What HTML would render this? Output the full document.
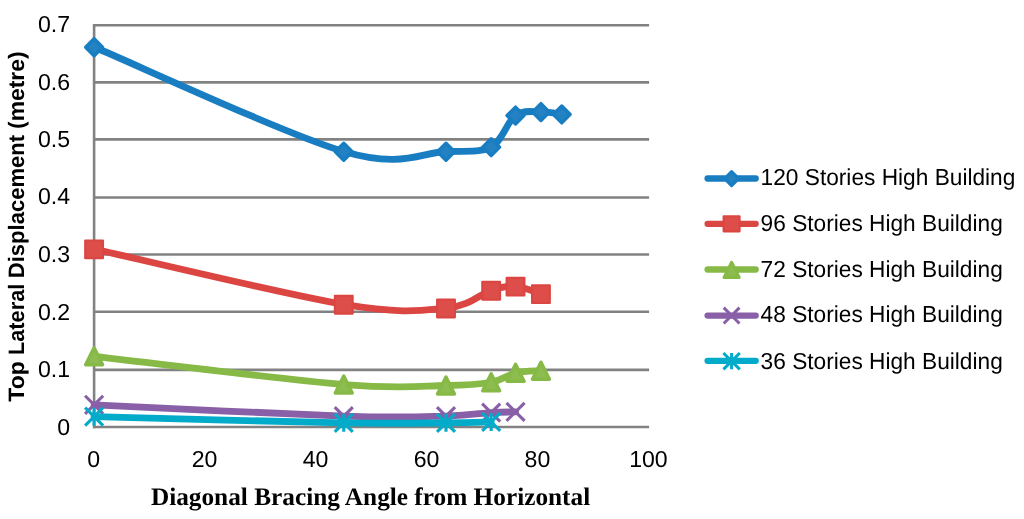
<!DOCTYPE html>
<html><head><meta charset="utf-8"><title>Chart</title>
<style>
html,body{margin:0;padding:0;background:#fff;}
body{width:1024px;height:519px;overflow:hidden;}
svg{display:block;text-rendering:geometricPrecision;}
.t{font-family:"Liberation Sans",sans-serif;font-size:23.1px;fill:#000;}
.yt{font-family:"Liberation Sans",sans-serif;font-size:22.3px;font-weight:bold;fill:#000;}
.xt{font-family:"Liberation Serif",serif;font-size:25.2px;font-weight:bold;fill:#000;}
</style></head><body>
<svg width="1024" height="519" viewBox="0 0 1024 519">
<rect width="1024" height="519" fill="#fff"/>
<line x1="93.10" y1="427.00" x2="649.10" y2="427.00" stroke="#828282" stroke-width="2.6"/>
<line x1="93.10" y1="369.85" x2="649.10" y2="369.85" stroke="#828282" stroke-width="2.6"/>
<line x1="93.10" y1="311.70" x2="649.10" y2="311.70" stroke="#828282" stroke-width="2.6"/>
<line x1="93.10" y1="254.55" x2="649.10" y2="254.55" stroke="#828282" stroke-width="2.6"/>
<line x1="93.10" y1="197.50" x2="649.10" y2="197.50" stroke="#828282" stroke-width="2.6"/>
<line x1="93.10" y1="139.40" x2="649.10" y2="139.40" stroke="#828282" stroke-width="2.6"/>
<line x1="93.10" y1="82.40" x2="649.10" y2="82.40" stroke="#828282" stroke-width="2.6"/>
<line x1="93.10" y1="25.25" x2="649.10" y2="25.25" stroke="#828282" stroke-width="2.6"/>
<line x1="94.10" y1="23.90" x2="94.10" y2="428.30" stroke="#828282" stroke-width="2.6"/>
<text class="t" x="70.0" y="434.65" text-anchor="end">0</text>
<text class="t" x="70.0" y="376.55" text-anchor="end">0.1</text>
<text class="t" x="70.0" y="319.50" text-anchor="end">0.2</text>
<text class="t" x="70.0" y="262.25" text-anchor="end">0.3</text>
<text class="t" x="70.0" y="204.25" text-anchor="end">0.4</text>
<text class="t" x="70.0" y="146.85" text-anchor="end">0.5</text>
<text class="t" x="70.0" y="89.65" text-anchor="end">0.6</text>
<text class="t" x="70.0" y="31.85" text-anchor="end">0.7</text>
<text class="t" x="93.60" y="467.25" text-anchor="middle">0</text>
<text class="t" x="204.56" y="467.25" text-anchor="middle">20</text>
<text class="t" x="315.52" y="467.25" text-anchor="middle">40</text>
<text class="t" x="426.48" y="467.25" text-anchor="middle">60</text>
<text class="t" x="537.44" y="467.25" text-anchor="middle">80</text>
<text class="t" x="648.40" y="467.25" text-anchor="middle">100</text>
<text class="xt" x="150.9" y="505.3" textLength="439.3" lengthAdjust="spacingAndGlyphs">Diagonal Bracing Angle from Horizontal</text>
<text class="yt" transform="translate(24.1,0) rotate(-90)"><tspan x="-401.70" textLength="40.46" lengthAdjust="spacingAndGlyphs">Top</tspan> <tspan x="-355.08" textLength="71.37" lengthAdjust="spacingAndGlyphs">Lateral</tspan> <tspan x="-278.19" textLength="143.27" lengthAdjust="spacingAndGlyphs">Displacement</tspan> <tspan x="-128.93" textLength="77.53" lengthAdjust="spacingAndGlyphs">(metre)</tspan></text>
<path d="M94.10,47.01 C135.71,64.42 285.11,134.07 343.76,151.48 C402.41,168.89 421.44,152.25 446.01,151.48 C470.58,150.71 479.58,152.91 491.17,146.89 C502.76,140.86 507.23,121.15 515.53,115.32 C523.82,109.48 533.23,112.07 540.94,111.87 C548.64,111.68 558.27,113.79 561.74,114.17" fill="none" stroke="#197dc2" stroke-width="6.8" stroke-linecap="round" stroke-linejoin="round"/>
<path d="M94.10,38.81 L102.55,47.26 L94.10,55.71 L85.65,47.26 Z" fill="#2481c2" stroke="#197dc2" stroke-width="3.4" stroke-linejoin="round"/>
<path d="M343.76,143.28 L352.21,151.73 L343.76,160.18 L335.31,151.73 Z" fill="#2481c2" stroke="#197dc2" stroke-width="3.4" stroke-linejoin="round"/>
<path d="M446.01,143.28 L454.46,151.73 L446.01,160.18 L437.56,151.73 Z" fill="#2481c2" stroke="#197dc2" stroke-width="3.4" stroke-linejoin="round"/>
<path d="M491.17,138.69 L499.62,147.14 L491.17,155.59 L482.72,147.14 Z" fill="#2481c2" stroke="#197dc2" stroke-width="3.4" stroke-linejoin="round"/>
<path d="M515.53,107.12 L523.98,115.57 L515.53,124.02 L507.08,115.57 Z" fill="#2481c2" stroke="#197dc2" stroke-width="3.4" stroke-linejoin="round"/>
<path d="M540.94,103.67 L549.39,112.12 L540.94,120.57 L532.49,112.12 Z" fill="#2481c2" stroke="#197dc2" stroke-width="3.4" stroke-linejoin="round"/>
<path d="M561.74,105.97 L570.19,114.42 L561.74,122.87 L553.29,114.42 Z" fill="#2481c2" stroke="#197dc2" stroke-width="3.4" stroke-linejoin="round"/>
<path d="M94.10,249.06 C135.71,258.28 285.11,294.54 343.76,304.39 C402.41,314.25 421.44,310.52 446.01,308.18 C470.58,305.85 479.58,294.02 491.17,290.39 C502.76,286.75 507.23,285.80 515.53,286.37 C523.82,286.94 536.70,292.59 540.94,293.83" fill="none" stroke="#db4643" stroke-width="6.8" stroke-linecap="round" stroke-linejoin="round"/>
<rect x="85.25" y="240.51" width="17.70" height="17.70" fill="#dd4e4b" stroke="#db4643" stroke-width="2.2" stroke-linejoin="round"/>
<rect x="334.91" y="295.84" width="17.70" height="17.70" fill="#dd4e4b" stroke="#db4643" stroke-width="2.2" stroke-linejoin="round"/>
<rect x="437.16" y="299.63" width="17.70" height="17.70" fill="#dd4e4b" stroke="#db4643" stroke-width="2.2" stroke-linejoin="round"/>
<rect x="482.32" y="281.84" width="17.70" height="17.70" fill="#dd4e4b" stroke="#db4643" stroke-width="2.2" stroke-linejoin="round"/>
<rect x="506.68" y="277.82" width="17.70" height="17.70" fill="#dd4e4b" stroke="#db4643" stroke-width="2.2" stroke-linejoin="round"/>
<rect x="532.09" y="285.28" width="17.70" height="17.70" fill="#dd4e4b" stroke="#db4643" stroke-width="2.2" stroke-linejoin="round"/>
<path d="M94.10,356.28 C135.71,360.99 285.11,379.65 343.76,384.52 C402.41,389.39 421.44,385.88 446.01,385.50 C470.58,385.12 479.58,384.33 491.17,382.23 C502.76,380.12 507.23,374.79 515.53,372.87 C523.82,370.96 536.70,371.10 540.94,370.75" fill="none" stroke="#86b946" stroke-width="6.8" stroke-linecap="round" stroke-linejoin="round"/>
<path d="M94.10,347.78 L102.60,364.78 L85.60,364.78 Z" fill="#8dbd50" stroke="#86b946" stroke-width="3.4" stroke-linejoin="round"/>
<path d="M343.76,376.02 L352.26,393.02 L335.26,393.02 Z" fill="#8dbd50" stroke="#86b946" stroke-width="3.4" stroke-linejoin="round"/>
<path d="M446.01,377.00 L454.51,394.00 L437.51,394.00 Z" fill="#8dbd50" stroke="#86b946" stroke-width="3.4" stroke-linejoin="round"/>
<path d="M491.17,373.73 L499.67,390.73 L482.67,390.73 Z" fill="#8dbd50" stroke="#86b946" stroke-width="3.4" stroke-linejoin="round"/>
<path d="M515.53,364.37 L524.03,381.37 L507.03,381.37 Z" fill="#8dbd50" stroke="#86b946" stroke-width="3.4" stroke-linejoin="round"/>
<path d="M540.94,362.25 L549.44,379.25 L532.44,379.25 Z" fill="#8dbd50" stroke="#86b946" stroke-width="3.4" stroke-linejoin="round"/>
<path d="M94.10,404.79 C135.71,406.67 285.11,414.21 343.76,416.09 C402.41,417.98 421.44,416.68 446.01,416.09 C470.58,415.51 479.58,413.29 491.17,412.59 C502.76,411.89 511.47,412.02 515.53,411.90" fill="none" stroke="#8960a7" stroke-width="6.8" stroke-linecap="round" stroke-linejoin="round"/>
<path d="M85.05,395.74 L103.15,413.84 M85.05,413.84 L103.15,395.74" fill="none" stroke="#8960a7" stroke-width="3.1"/>
<path d="M334.71,407.04 L352.81,425.14 M334.71,425.14 L352.81,407.04" fill="none" stroke="#8960a7" stroke-width="3.1"/>
<path d="M436.96,407.04 L455.06,425.14 M436.96,425.14 L455.06,407.04" fill="none" stroke="#8960a7" stroke-width="3.1"/>
<path d="M482.12,403.54 L500.22,421.64 M482.12,421.64 L500.22,403.54" fill="none" stroke="#8960a7" stroke-width="3.1"/>
<path d="M506.48,402.85 L524.58,420.95 M506.48,420.95 L524.58,402.85" fill="none" stroke="#8960a7" stroke-width="3.1"/>
<path d="M94.10,416.67 C135.71,417.69 285.11,421.79 343.76,422.81 C402.41,423.83 421.44,422.96 446.01,422.81 C470.58,422.66 483.64,422.04 491.17,421.89" fill="none" stroke="#02abc9" stroke-width="6.8" stroke-linecap="round" stroke-linejoin="round"/>
<path d="M85.10,407.67 L103.10,425.67 M85.10,425.67 L103.10,407.67 M94.10,407.67 L94.10,425.67" fill="none" stroke="#02abc9" stroke-width="3.1"/>
<path d="M334.76,413.81 L352.76,431.81 M334.76,431.81 L352.76,413.81 M343.76,413.81 L343.76,431.81" fill="none" stroke="#02abc9" stroke-width="3.1"/>
<path d="M437.01,413.81 L455.01,431.81 M437.01,431.81 L455.01,413.81 M446.01,413.81 L446.01,431.81" fill="none" stroke="#02abc9" stroke-width="3.1"/>
<path d="M482.17,412.89 L500.17,430.89 M482.17,430.89 L500.17,412.89 M491.17,412.89 L491.17,430.89" fill="none" stroke="#02abc9" stroke-width="3.1"/>
<line x1="707.6" y1="178.50" x2="755.7" y2="178.50" stroke="#197dc2" stroke-width="6.3" stroke-linecap="round"/>
<path d="M731.60,171.70 L738.50,178.60 L731.60,185.50 L724.70,178.60 Z" fill="#2481c2" stroke="#197dc2" stroke-width="3.2" stroke-linejoin="round"/>
<text class="t" x="760.6" y="185.40" textLength="254.77" lengthAdjust="spacingAndGlyphs">120 Stories High Building</text>
<line x1="707.6" y1="223.85" x2="755.7" y2="223.85" stroke="#db4643" stroke-width="6.3" stroke-linecap="round"/>
<rect x="723.65" y="216.40" width="15.90" height="14.90" fill="#dd4e4b" stroke="#db4643" stroke-width="2.2" stroke-linejoin="round"/>
<text class="t" x="760.6" y="231.25" textLength="242.16" lengthAdjust="spacingAndGlyphs">96 Stories High Building</text>
<line x1="707.6" y1="269.50" x2="755.7" y2="269.50" stroke="#86b946" stroke-width="6.3" stroke-linecap="round"/>
<path d="M731.60,262.45 L739.10,277.45 L724.10,277.45 Z" fill="#8dbd50" stroke="#86b946" stroke-width="3.2" stroke-linejoin="round"/>
<text class="t" x="760.6" y="276.90" textLength="242.16" lengthAdjust="spacingAndGlyphs">72 Stories High Building</text>
<line x1="707.6" y1="315.55" x2="755.7" y2="315.55" stroke="#8960a7" stroke-width="6.3" stroke-linecap="round"/>
<path d="M723.70,307.65 L739.50,323.45 M723.70,323.45 L739.50,307.65" fill="none" stroke="#8960a7" stroke-width="3.0"/>
<text class="t" x="760.6" y="322.10" textLength="242.16" lengthAdjust="spacingAndGlyphs">48 Stories High Building</text>
<line x1="707.6" y1="360.85" x2="755.7" y2="360.85" stroke="#02abc9" stroke-width="6.3" stroke-linecap="round"/>
<path d="M723.40,352.95 L739.80,369.35 M723.40,369.35 L739.80,352.95 M731.60,352.95 L731.60,369.35" fill="none" stroke="#02abc9" stroke-width="3.0"/>
<text class="t" x="760.6" y="368.50" textLength="242.16" lengthAdjust="spacingAndGlyphs">36 Stories High Building</text>
</svg></body></html>
